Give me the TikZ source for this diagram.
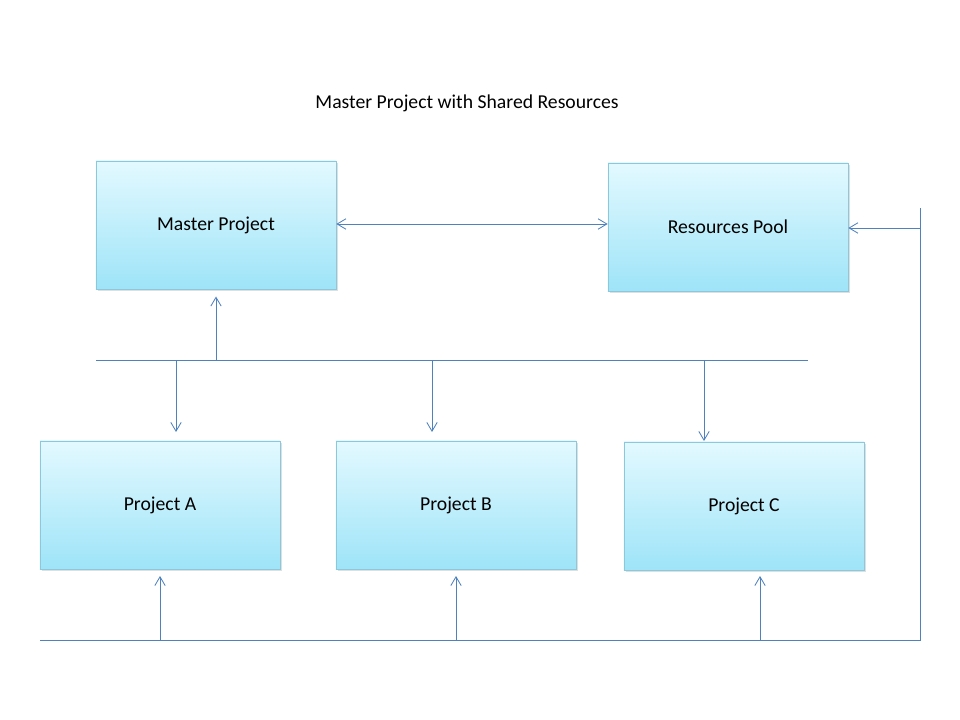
\documentclass[tikz,border=0pt]{standalone}
\usepackage{fontspec}
\setmainfont{Carlito}
\usetikzlibrary{arrows.meta,shadows}
\definecolor{boxtop}{HTML}{E3F9FF}
\definecolor{boxbot}{HTML}{9EE4F8}
\definecolor{boxline}{HTML}{8CC8DC}
\definecolor{wire}{HTML}{4F81BD}
\begin{document}
\begin{tikzpicture}[
    x=0.025cm, y=-0.025cm,
    proj/.style={rectangle, draw=boxline, top color=boxtop, bottom color=boxbot, minimum width=6cm, minimum height=3.2cm, font=\fontsize{14}{16}\selectfont, drop shadow={opacity=0.25, shadow xshift=0.05cm, shadow yshift=-0.05cm}},
    wireline/.style={draw=wire, line width=0.6pt},
    arrow/.style={wireline, -{Straight Barb[length=2.2mm, width=2.6mm]}}
]
\useasboundingbox (0,0) rectangle (960,720);

% Title
\node[font=\fontsize{14}{16}\selectfont] (title) at (467,103) {Master Project with Shared Resources};

% Boxes
\node[proj] (master) at (216,225) {Master Project};
\node[proj] (pool) at (728,227) {Resources Pool};
\node[proj] (pa) at (160,505) {Project A};
\node[proj] (pb) at (456,505) {Project B};
\node[proj] (pc) at (744,506) {Project C};

% Bus lines
\coordinate (busL) at (96,360);
\coordinate (busR) at (808,360);
\coordinate (botL) at (40,640);
\coordinate (botR) at (920,640);
\coordinate (topR) at (920,208);
\draw[wireline] (busL) -- (busR);
\draw[wireline] (botL) -- (botR) -- (topR);

% Upper bus connections
\coordinate (upM) at (216,360);
\draw[arrow] (upM) -- ([yshift=-0.18cm]master.south);
\coordinate (dnA) at (176,360);
\coordinate (dnB) at (432,360);
\coordinate (dnC) at (704,360);
\draw[arrow] (dnA) -- (176,432);
\draw[arrow] (dnB) -- (432,432);
\draw[arrow] (dnC) -- (704,441);

% Lower bus connections
\coordinate (upA) at (160,640);
\coordinate (upB) at (456,640);
\coordinate (upC) at (760,640);
\draw[arrow] (upA) -- (160,576);
\draw[arrow] (upB) -- (456,576);
\draw[arrow] (upC) -- (760,576);

% Feed to pool
\coordinate (feed) at (920,228);
\draw[arrow] (feed) -- (pool.east |- feed);

% Master <-> pool
\draw[wireline, {Straight Barb[length=2.2mm, width=2.6mm]}-{Straight Barb[length=2.2mm, width=2.6mm]}] (master.east |- 0,224) -- (pool.west |- 0,224);
\end{tikzpicture}
\end{document}
